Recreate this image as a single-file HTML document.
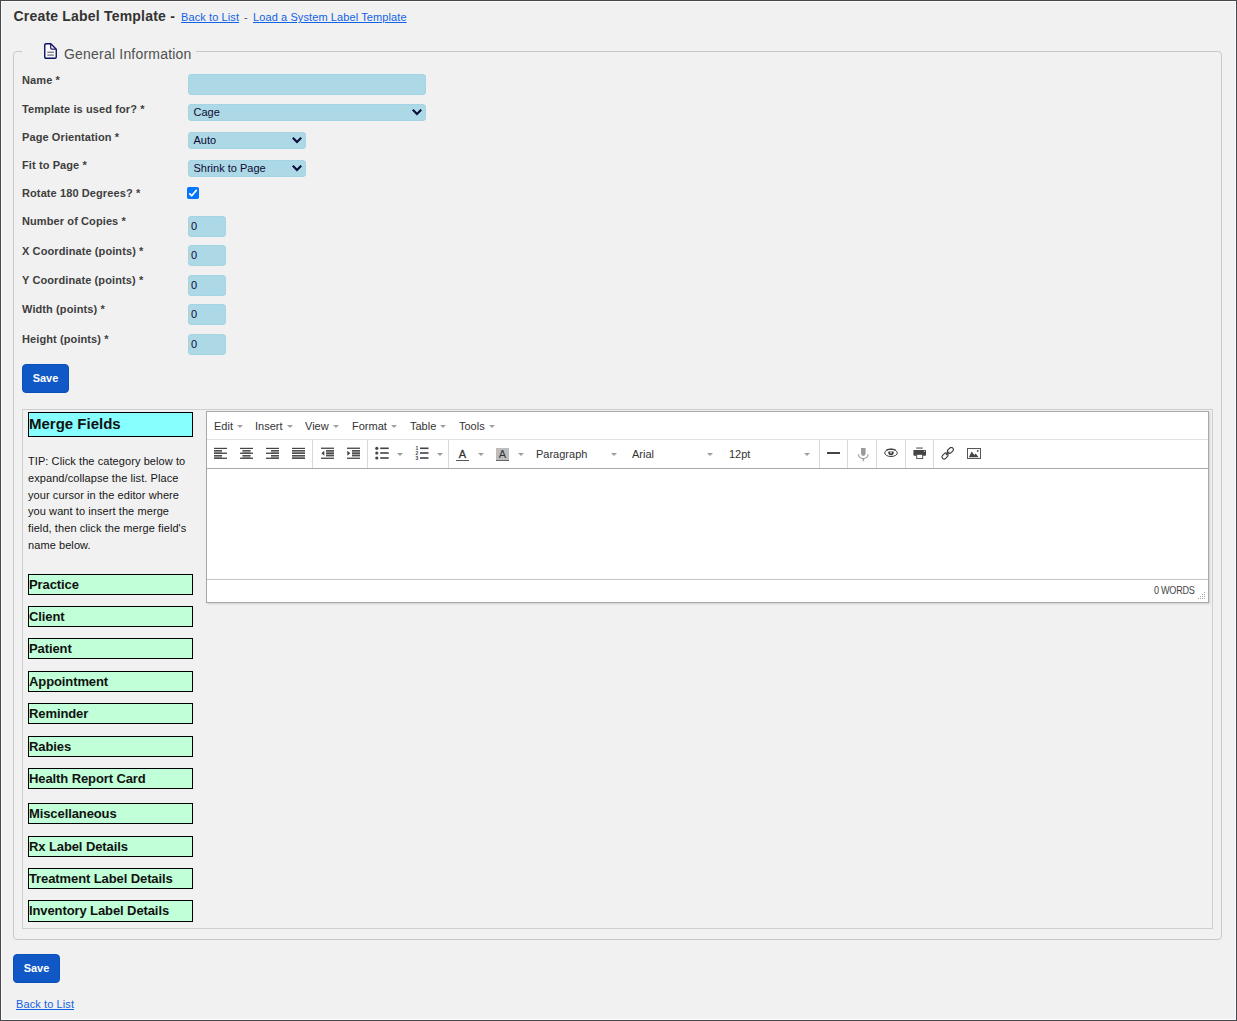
<!DOCTYPE html>
<html><head><meta charset="utf-8">
<style>
*{box-sizing:border-box;}
html,body{margin:0;padding:0;}
body{width:1237px;height:1021px;overflow:hidden;background:#f1f1f1;font-family:"Liberation Sans",Arial,sans-serif;color:#333;position:relative;}
.frame{position:absolute;left:0;top:0;width:1237px;height:1021px;border:1px solid #46484d;box-shadow:inset 0 0 0 1px #fbfbfb;pointer-events:none;z-index:10;}
.abs{position:absolute;white-space:nowrap;}
.title{left:13.5px;top:8px;font-size:14px;font-weight:bold;color:#333;line-height:16px;letter-spacing:0.2px;}
.lnk{font-size:11px;letter-spacing:0.1px;color:#1262e4;text-decoration:underline;line-height:13px;}
.sep{font-size:11px;color:#555;line-height:13px;}
.fs{left:13px;top:51px;width:1209px;height:889px;border:1px solid #c4c9cc;border-radius:4px;}
.legend-bg{left:22px;top:44px;width:174px;height:16px;background:#f1f1f1;}
.legtext{left:64px;top:46px;font-size:14px;color:#505050;line-height:16px;letter-spacing:0.2px;}
.lbl{left:22px;font-size:11px;font-weight:bold;color:#3e3e3e;letter-spacing:0.1px;line-height:13px;}
.inp{left:188px;background:#add8e6;border:1px solid #a5d4e4;border-radius:3px;}
.sel{left:188px;height:17px;background:#add8e6;border:1px solid #a5d4e4;border-radius:3px;font-size:11px;color:#0b0b33;line-height:15px;padding-left:4.5px;}
.sel svg{position:absolute;top:3px;}
.num{left:188px;width:38px;height:21px;background:#add8e6;border:1px solid #a5d4e4;border-radius:3px;font-size:11px;color:#0b0b33;line-height:19px;padding-left:2px;}
.btn{background:#1058c5;border:1px solid #0b4fbb;border-radius:4px;color:#fff;font-weight:bold;font-size:11px;text-align:center;}
.inner{left:22px;top:409px;width:1191px;height:520px;border:1px solid #cfcfcf;}
.mf{left:28px;top:412px;width:165px;height:25px;background:#88ffff;border:1px solid #000;font-size:15px;font-weight:bold;color:#111;line-height:22px;padding-left:0px;}
.tip{left:28px;top:453px;width:164px;font-size:11px;line-height:16.8px;color:#151515;letter-spacing:0.08px;white-space:normal;}
.cat{left:28px;width:165px;height:21px;background:#c0ffd8;border:1px solid #000;font-size:13px;font-weight:bold;color:#111;line-height:19px;padding-left:0px;letter-spacing:-0.1px;}
.ed{left:206px;top:411px;width:1003px;height:192px;background:#fff;border:1px solid #a8a8a8;box-shadow:1px 1px 2px rgba(0,0,0,0.15);}
.menu{font-size:11px;color:#333;line-height:13px;}
.caret{position:absolute;width:0;height:0;border-left:3px solid transparent;border-right:3px solid transparent;border-top:3px solid #a0a0a0;}
.vsep{position:absolute;top:440px;width:1px;height:28px;background:#d9d9d9;}
.hline{position:absolute;height:1px;}
</style></head>
<body>
<div class="frame"></div>

<div class="abs title">Create Label Template -</div>
<div class="abs lnk" style="left:181px;top:11px;">Back to List</div>
<div class="abs sep" style="left:244px;top:11px;">-</div>
<div class="abs lnk" style="left:253px;top:11px;">Load a System Label Template</div>

<div class="abs fs"></div>
<div class="abs legend-bg"></div>
<svg class="abs" style="left:44px;top:43px;" width="13" height="16" viewBox="0 0 13 16">
<path d="M0.75 2.1 Q0.75 0.75 2.1 0.75 H6.8 L12.25 6.2 V13.9 Q12.25 15.25 10.9 15.25 H2.1 Q0.75 15.25 0.75 13.9 Z" fill="#fbfbfb" stroke="#0a1262" stroke-width="1.4" stroke-linejoin="round"/>
<path d="M6.7 0.9 V5 Q6.7 6.1 7.8 6.1 H12" fill="none" stroke="#2a1a6a" stroke-width="1.3"/>
<rect x="3.3" y="8.6" width="6.6" height="1.4" fill="#7b8089"/>
<rect x="3.3" y="11.4" width="6.6" height="1.4" fill="#7b8089"/>
</svg>
<div class="abs legtext">General Information</div>

<!-- labels -->
<div class="abs lbl" style="top:74px;">Name *</div>
<div class="abs lbl" style="top:103px;">Template is used for? *</div>
<div class="abs lbl" style="top:131px;">Page Orientation *</div>
<div class="abs lbl" style="top:159px;">Fit to Page *</div>
<div class="abs lbl" style="top:187px;">Rotate 180 Degrees? *</div>
<div class="abs lbl" style="top:215px;">Number of Copies *</div>
<div class="abs lbl" style="top:245px;">X Coordinate (points) *</div>
<div class="abs lbl" style="top:274px;">Y Coordinate (points) *</div>
<div class="abs lbl" style="top:303px;">Width (points) *</div>
<div class="abs lbl" style="top:333px;">Height (points) *</div>

<!-- inputs -->
<div class="abs inp" style="top:74px;width:238px;height:21px;"></div>
<div class="abs sel" style="top:104px;width:238px;">Cage<svg style="left:223px" width="10" height="8" viewBox="0 0 10 8"><path d="M0.8 1.8 L5 6 L9.2 1.8" fill="none" stroke="#0a0a3c" stroke-width="2.1"/></svg></div>
<div class="abs sel" style="top:132px;width:118px;">Auto<svg style="left:103px" width="10" height="8" viewBox="0 0 10 8"><path d="M0.8 1.8 L5 6 L9.2 1.8" fill="none" stroke="#0a0a3c" stroke-width="2.1"/></svg></div>
<div class="abs sel" style="top:160px;width:118px;">Shrink to Page<svg style="left:103px" width="10" height="8" viewBox="0 0 10 8"><path d="M0.8 1.8 L5 6 L9.2 1.8" fill="none" stroke="#0a0a3c" stroke-width="2.1"/></svg></div>
<svg class="abs" style="left:187px;top:187px;" width="12" height="12" viewBox="0 0 12 12"><rect x="0" y="0" width="12" height="12" rx="1.8" fill="#0075ff"/><path d="M2.3 6.3 L4.7 8.7 L9.7 2.9" fill="none" stroke="#fff" stroke-width="1.7"/></svg>
<div class="abs num" style="top:216px;">0</div>
<div class="abs num" style="top:245px;">0</div>
<div class="abs num" style="top:275px;">0</div>
<div class="abs num" style="top:304px;">0</div>
<div class="abs num" style="top:334px;">0</div>

<div class="abs btn" style="left:22px;top:364px;width:47px;height:29px;line-height:27px;">Save</div>

<!-- inner box -->
<div class="abs inner"></div>
<div class="abs mf">Merge Fields</div>
<div class="abs tip">TIP: Click the category below to expand/collapse the list. Place your cursor in the editor where you want to insert the merge field, then click the merge field's name below.</div>

<div class="abs cat" style="top:574px;">Practice</div>
<div class="abs cat" style="top:606px;">Client</div>
<div class="abs cat" style="top:638px;">Patient</div>
<div class="abs cat" style="top:671px;">Appointment</div>
<div class="abs cat" style="top:703px;">Reminder</div>
<div class="abs cat" style="top:736px;">Rabies</div>
<div class="abs cat" style="top:768px;">Health Report Card</div>
<div class="abs cat" style="top:803px;">Miscellaneous</div>
<div class="abs cat" style="top:836px;">Rx Label Details</div>
<div class="abs cat" style="top:868px;">Treatment Label Details</div>
<div class="abs cat" style="top:900px;height:22px;">Inventory Label Details</div>

<!-- editor -->
<div class="abs ed"></div>
<!-- EDITOR_START -->
<!-- menubar -->
<div class="abs menu" style="left:214px;top:420px;">Edit</div><div class="caret" style="left:237px;top:425px;"></div>
<div class="abs menu" style="left:255px;top:420px;">Insert</div><div class="caret" style="left:287px;top:425px;"></div>
<div class="abs menu" style="left:305px;top:420px;">View</div><div class="caret" style="left:333px;top:425px;"></div>
<div class="abs menu" style="left:352px;top:420px;">Format</div><div class="caret" style="left:391px;top:425px;"></div>
<div class="abs menu" style="left:410px;top:420px;">Table</div><div class="caret" style="left:440px;top:425px;"></div>
<div class="abs menu" style="left:459px;top:420px;">Tools</div><div class="caret" style="left:489px;top:425px;"></div>
<div class="hline" style="left:207px;top:439px;width:1001px;background:#e2e2e2;"></div>
<div class="hline" style="left:207px;top:468px;width:1001px;background:#a9a9a9;"></div>
<div class="hline" style="left:207px;top:579px;width:1001px;background:#c5c5c5;"></div>
<!-- separators -->
<div class="vsep" style="left:312px;"></div>
<div class="vsep" style="left:367px;"></div>
<div class="vsep" style="left:448px;"></div>
<div class="vsep" style="left:819px;"></div>
<div class="vsep" style="left:847px;"></div>
<div class="vsep" style="left:876px;"></div>
<div class="vsep" style="left:905px;"></div>
<div class="vsep" style="left:933px;"></div>
<!-- align icons -->
<svg class="abs" style="left:214px;top:447px;" width="13" height="13" viewBox="0 0 13 13"><rect x="0" y="3.1" width="8" height="3.8" fill="#a8a8a8"/><rect x="0" y="8.1" width="8" height="3.8" fill="#a8a8a8"/><rect x="0" y="0.8" width="13" height="1.2" fill="#444"/><rect x="0" y="3.1" width="8" height="1.1" fill="#444"/><rect x="0" y="5.6" width="13" height="1.3" fill="#444"/><rect x="0" y="8.1" width="8" height="1.1" fill="#444"/><rect x="0" y="10.6" width="13" height="1.3" fill="#444"/></svg>
<svg class="abs" style="left:240px;top:447px;" width="13" height="13" viewBox="0 0 13 13"><rect x="2.5" y="3.1" width="8" height="3.8" fill="#a8a8a8"/><rect x="2.5" y="8.1" width="8" height="3.8" fill="#a8a8a8"/><rect x="0" y="0.8" width="13" height="1.2" fill="#444"/><rect x="2.5" y="3.1" width="8" height="1.1" fill="#444"/><rect x="0" y="5.6" width="13" height="1.3" fill="#444"/><rect x="2.5" y="8.1" width="8" height="1.1" fill="#444"/><rect x="0" y="10.6" width="13" height="1.3" fill="#444"/></svg>
<svg class="abs" style="left:266px;top:447px;" width="13" height="13" viewBox="0 0 13 13"><rect x="5" y="3.1" width="8" height="3.8" fill="#a8a8a8"/><rect x="5" y="8.1" width="8" height="3.8" fill="#a8a8a8"/><rect x="0" y="0.8" width="13" height="1.2" fill="#444"/><rect x="5" y="3.1" width="8" height="1.1" fill="#444"/><rect x="0" y="5.6" width="13" height="1.3" fill="#444"/><rect x="5" y="8.1" width="8" height="1.1" fill="#444"/><rect x="0" y="10.6" width="13" height="1.3" fill="#444"/></svg>
<svg class="abs" style="left:292px;top:447px;" width="13" height="13" viewBox="0 0 13 13"><rect x="0" y="3.1" width="13" height="3.8" fill="#a8a8a8"/><rect x="0" y="8.1" width="13" height="3.8" fill="#a8a8a8"/><rect x="0" y="0.8" width="13" height="1.2" fill="#444"/><rect x="0" y="3.1" width="13" height="1.1" fill="#444"/><rect x="0" y="5.6" width="13" height="1.3" fill="#444"/><rect x="0" y="8.1" width="13" height="1.1" fill="#444"/><rect x="0" y="10.6" width="13" height="1.3" fill="#444"/></svg>
<!-- outdent / indent -->
<svg class="abs" style="left:321px;top:447px;" width="13" height="13" viewBox="0 0 13 13"><rect x="5" y="3" width="8" height="6" fill="#a8a8a8"/><rect x="0" y="0.6" width="13" height="1.3" fill="#444"/><rect x="5" y="3.1" width="8" height="1.3" fill="#444"/><rect x="5" y="5.6" width="8" height="1.3" fill="#444"/><rect x="5" y="8.1" width="8" height="1.3" fill="#444"/><rect x="0" y="10.6" width="13" height="1.3" fill="#444"/><path d="M0.3 6.2 L3.3 3.7 V8.7 Z" fill="#444"/></svg>
<svg class="abs" style="left:347px;top:447px;" width="13" height="13" viewBox="0 0 13 13"><rect x="5" y="3" width="8" height="6" fill="#a8a8a8"/><rect x="0" y="0.6" width="13" height="1.3" fill="#444"/><rect x="5" y="3.1" width="8" height="1.3" fill="#444"/><rect x="5" y="5.6" width="8" height="1.3" fill="#444"/><rect x="5" y="8.1" width="8" height="1.3" fill="#444"/><rect x="0" y="10.6" width="13" height="1.3" fill="#444"/><path d="M3.3 6.2 L0.3 3.7 V8.7 Z" fill="#444"/></svg>
<!-- bullist / numlist -->
<svg class="abs" style="left:375px;top:446px;" width="14" height="14" viewBox="0 0 14 14"><circle cx="1.8" cy="2.3" r="1.6" fill="#444"/><circle cx="1.8" cy="7" r="1.6" fill="#444"/><circle cx="1.8" cy="12" r="1.6" fill="#444"/><rect x="5.2" y="1.5" width="8.5" height="1.6" fill="#444"/><rect x="5.2" y="6.2" width="8.5" height="1.6" fill="#444"/><rect x="5.2" y="11.2" width="8.5" height="1.6" fill="#444"/></svg>
<div class="caret" style="left:397px;top:453px;"></div>
<svg class="abs" style="left:415px;top:446px;" width="14" height="14" viewBox="0 0 14 14"><text x="0.5" y="4.3" font-size="5" font-family="Liberation Sans" font-weight="bold" fill="#444">1</text><text x="0.5" y="9" font-size="5" font-family="Liberation Sans" font-weight="bold" fill="#444">2</text><text x="0.5" y="14" font-size="5" font-family="Liberation Sans" font-weight="bold" fill="#444">3</text><rect x="5" y="1.5" width="8.5" height="1.6" fill="#444"/><rect x="5" y="6.2" width="8.5" height="1.6" fill="#444"/><rect x="5" y="11.2" width="8.5" height="1.6" fill="#444"/></svg>
<div class="caret" style="left:437px;top:453px;"></div>
<!-- forecolor / backcolor -->
<div class="abs" style="left:456px;top:447px;width:13px;height:14px;font-size:11px;line-height:14px;text-align:center;color:#333;-webkit-text-stroke:0.3px #333;">A</div>
<div class="hline" style="left:456px;top:460px;width:13px;background:#555;"></div>
<div class="caret" style="left:478px;top:453px;"></div>
<div class="abs" style="left:496px;top:448px;width:13px;height:13px;background:#bdbdbd;font-size:11px;line-height:12px;text-align:center;color:#333;">A</div>
<div class="hline" style="left:496px;top:460px;width:13px;background:#666;"></div>
<div class="caret" style="left:518px;top:453px;"></div>
<!-- listboxes -->
<div class="abs menu" style="left:536px;top:448px;">Paragraph</div><div class="caret" style="left:611px;top:453px;"></div>
<div class="abs menu" style="left:632px;top:448px;">Arial</div><div class="caret" style="left:707px;top:453px;"></div>
<div class="abs menu" style="left:729px;top:448px;">12pt</div><div class="caret" style="left:804px;top:453px;"></div>
<!-- hr -->
<div class="hline" style="left:827px;top:452px;width:13px;height:2px;background:#444;"></div>
<!-- mic -->
<svg class="abs" style="left:857px;top:447px;" width="13" height="15" viewBox="0 0 13 15"><path d="M4 1.1 H8.6 V6.6 A2.3 2.3 0 0 1 4 6.6 Z" fill="#9a9a9a"/><path d="M1.5 7.3 A4.8 4.3 0 0 0 11.1 7.3" fill="none" stroke="#a0a0a0" stroke-width="1.2"/><rect x="5.65" y="11.2" width="1.3" height="3" fill="#a0a0a0"/></svg>
<!-- eye -->
<svg class="abs" style="left:884px;top:448px;" width="14" height="10" viewBox="0 0 14 10"><ellipse cx="7" cy="4.9" rx="6.3" ry="3.6" fill="none" stroke="#3a3a3a" stroke-width="1"/><path d="M2.2 2.2 Q7 -0.2 11.8 2.2" fill="none" stroke="#3a3a3a" stroke-width="1.1"/><path d="M4.3 3.4 H9.7 V4.6 A2.7 2.7 0 0 1 4.3 4.6 Z" fill="#3a3a3a"/><circle cx="7" cy="4.7" r="0.9" fill="#e8e0d0"/></svg>
<!-- print -->
<svg class="abs" style="left:912px;top:447px;" width="15" height="13" viewBox="0 0 15 13"><rect x="4.2" y="0.5" width="6.6" height="1.1" fill="#555"/><rect x="1.4" y="3" width="12.6" height="5.7" rx="0.6" fill="#444"/><rect x="4.7" y="7.3" width="6" height="4.3" fill="#fff" stroke="#444" stroke-width="0.9"/><circle cx="12.4" cy="4.3" r="0.6" fill="#cfe0ee"/></svg>
<!-- link -->
<svg class="abs" style="left:941px;top:447px;" width="14" height="13" viewBox="0 0 14 13"><g fill="none" stroke="#3a3a3a" stroke-width="1.1"><rect x="6.1" y="1.3" width="6.6" height="4.2" rx="2.1" transform="rotate(-45 9.4 3.4)"/><rect x="0.7" y="6.9" width="6.6" height="4.2" rx="2.1" transform="rotate(-45 4 9)"/><path d="M5 8 L8.4 4.6"/></g></svg>
<!-- image -->
<svg class="abs" style="left:967px;top:448px;" width="14" height="11" viewBox="0 0 14 11"><rect x="0.5" y="0.5" width="13" height="10" fill="none" stroke="#555" stroke-width="1"/><path d="M1.8 9.2 L4.7 3.4 L7.3 7.1 L8.7 5.5 L11.6 9.2 Z" fill="#444"/><circle cx="10.7" cy="2.9" r="0.95" fill="#444"/></svg>
<!-- status -->
<div class="abs" style="left:1154px;top:585px;font-size:10px;line-height:11px;color:#444;letter-spacing:-0.3px;transform:scaleX(0.91);transform-origin:0 0;">0 WORDS</div>
<svg class="abs" style="left:1197px;top:591px;" width="9" height="9" viewBox="0 0 9 9"><g fill="#aaa"><rect x="7" y="1" width="1" height="1"/><rect x="5" y="3" width="1" height="1"/><rect x="7" y="3" width="1" height="1"/><rect x="3" y="5" width="1" height="1"/><rect x="5" y="5" width="1" height="1"/><rect x="7" y="5" width="1" height="1"/><rect x="1" y="7" width="1" height="1"/><rect x="3" y="7" width="1" height="1"/><rect x="5" y="7" width="1" height="1"/><rect x="7" y="7" width="1" height="1"/></g></svg>
<!-- EDITOR_END -->

<div class="abs btn" style="left:13px;top:954px;width:47px;height:29px;line-height:27px;">Save</div>
<div class="abs lnk" style="left:16px;top:998px;">Back to List</div>
</body></html>
